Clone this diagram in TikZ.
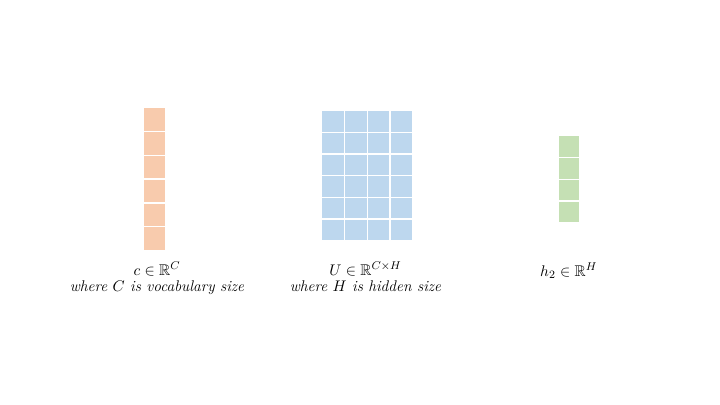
\documentclass[tikz,border=0pt]{standalone}
\usepackage{amsmath}
\usepackage{amssymb}
\usepackage{tikz}

\definecolor{vocabfill}{RGB}{248,203,173}
\definecolor{weightfill}{RGB}{189,215,238}
\definecolor{hiddenfill}{RGB}{197,224,180}

\begin{document}
\begin{tikzpicture}[x=0.025cm,y=-0.025cm]
            \useasboundingbox (0,0) rectangle (720,405);
            \begin{scope}[every node/.style={draw=white,line width=0.9pt,inner sep=0pt}]
                % c: vocabulary vector
                \foreach \r in {1,...,6}
                    \node[fill=vocabfill,minimum width=22.4*0.025cm,minimum height=23.8*0.025cm] (c\r) at (154.5,{107.7+23.8*(\r-0.5)}) {};
                % U: weight matrix
                \foreach \r in {1,...,6}
                    \foreach \k in {1,...,4}
                        \node[fill=weightfill,minimum width=22.75*0.025cm,minimum height=21.67*0.025cm] (u\r\k) at ({321.7+22.75*(\k-0.5)},{110.7+21.67*(\r-0.5)}) {};
                % h2: hidden vector
                \foreach \r in {1,...,4}
                    \node[fill=hiddenfill,minimum width=21.7*0.025cm,minimum height=21.75*0.025cm] (h\r) at (569.2,{135.7+21.75*(\r-0.5)}) {};
            \end{scope}
            \begin{scope}[every node/.style={font=\fontsize{11pt}{13pt}\selectfont,anchor=base,inner sep=0pt}]
                \node (clabel) at (157,275) {$c \in \mathbb{R}^{C}$};
                \node (cnote) at (157,291) {\itshape where $C$ is vocabulary size};
                \node (ulabel) at (365.5,275) {$U \in \mathbb{R}^{C \times H}$};
                \node (unote) at (365.5,291) {\itshape where $H$ is hidden size};
                \node (hlabel) at (568.7,276) {$h_2 \in \mathbb{R}^{H}$};
            \end{scope}
        \end{tikzpicture}
\end{document}
